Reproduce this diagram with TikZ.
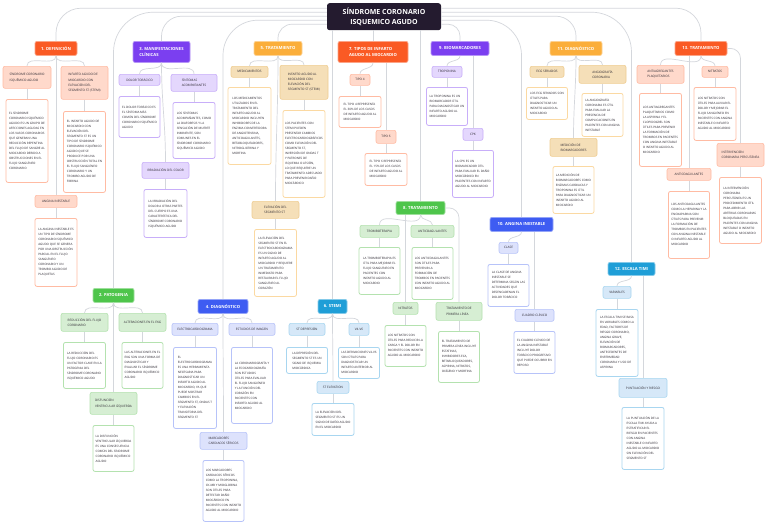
\documentclass[tikz,border=0pt]{standalone}
\usepackage{fontspec}
\setmainfont{Open Sans}
\usepackage{tikz}
\usetikzlibrary{positioning,calc}
\definecolor{ink}{HTML}{2E2A33}
\definecolor{rootdark}{HTML}{241B2F}
\definecolor{linkgray}{HTML}{D4D7DC}
\definecolor{redink}{HTML}{FA5A24}
\definecolor{redbg}{HTML}{FFD9CB}
\definecolor{redline}{HTML}{FFBBA3}
\definecolor{purpleink}{HTML}{7B3FF0}
\definecolor{purplebg}{HTML}{E4D7FD}
\definecolor{purpleline}{HTML}{C8AEF9}
\definecolor{amberink}{HTML}{FBAE3A}
\definecolor{amberbg}{HTML}{F5DFB8}
\definecolor{amberedge}{HTML}{EFCD92}
\definecolor{amberline}{HTML}{FBD9A2}
\definecolor{greenink}{HTML}{4EC54B}
\definecolor{greenbg}{HTML}{D6EED3}
\definecolor{greenline}{HTML}{B4E2AF}
\definecolor{blueink}{HTML}{3E5CF2}
\definecolor{bluebg}{HTML}{DDE2FC}
\definecolor{blueline}{HTML}{B7C3F9}
\definecolor{tealink}{HTML}{1F9ED7}
\definecolor{tealbg}{HTML}{D6E8F8}
\definecolor{tealline}{HTML}{A8D6F0}
\newcommand\rootfont{\fontsize{7}{10}\selectfont\bfseries}
\newcommand\headfont{\fontsize{4.2}{6}\selectfont\bfseries}
\newcommand\subfont{\fontsize{3.1}{5.2}\selectfont}
\newcommand\txtfont{\fontsize{3}{5}\selectfont}
\tikzset{
  every node/.style={text=ink},
  rootbox/.style={fill=rootdark,text=white,rounded corners=2.5pt,font=\rootfont,align=center,anchor=north,minimum width=114pt,minimum height=27pt,inner sep=2pt},
  headbox/.style={rounded corners=2pt,text=white,font=\headfont,align=left,anchor=north,inner xsep=3pt,inner ysep=1.5pt,minimum height=14pt,line width=0.8pt},
  headred/.style={headbox,fill=redink,draw=redink!55},
  headpurple/.style={headbox,fill=purpleink,draw=purpleink!55},
  headamber/.style={headbox,fill=amberink,draw=amberink!55},
  headgreen/.style={headbox,fill=greenink,draw=greenink!55},
  headblue/.style={headbox,fill=blueink,draw=blueink!55},
  headteal/.style={headbox,fill=tealink,draw=tealink!55},
  subbox/.style={rounded corners=2pt,font=\subfont,align=left,anchor=north,inner sep=2pt,minimum width=47pt,minimum height=12pt,line width=0.6pt},
  subred/.style={subbox,fill=redbg,draw=redline},
  subpurple/.style={subbox,fill=purplebg,draw=purpleline},
  subamber/.style={subbox,fill=amberbg,draw=amberedge},
  subgreen/.style={subbox,fill=greenbg,draw=greenline},
  subblue/.style={subbox,fill=bluebg,draw=blueline},
  subteal/.style={subbox,fill=tealbg,draw=tealline},
  txtbox/.style={rounded corners=2pt,fill=white,font=\txtfont,align=left,anchor=north,inner sep=2pt,minimum width=42pt,line width=0.8pt},
  txtred/.style={txtbox,draw=redline},
  txtpurple/.style={txtbox,draw=purpleline},
  txtamber/.style={txtbox,draw=amberline},
  txtgreen/.style={txtbox,draw=greenline},
  txtblue/.style={txtbox,draw=blueline},
  txtteal/.style={txtbox,draw=tealline},
  linkline/.style={draw=linkgray,line width=0.7pt}
}
\begin{document}
\begin{tikzpicture}[x=1pt,y=1pt]
  \fill[white] (0,0) rectangle (768,-525);
  \useasboundingbox (0,0) rectangle (768,-525);

  \node[rootbox] (root) at (384,-3) {SÍNDROME CORONARIO\\ISQUEMICO AGUDO};

  \node[headred,minimum width=42pt] (def) at (56,-41) {1. DEFINICIÓN};
  \node[headpurple,minimum width=57pt,minimum height=21pt] (man) at (161.5,-41) {3. MANIFESTACIONES\\CLÍNICAS};
  \node[headamber,minimum width=48pt] (tra5) at (278,-41) {5. TRATAMIENTO};
  \node[headred,minimum width=70pt,minimum height=21pt] (tip) at (373,-41) {7. TIPOS DE INFARTO\\AGUDO AL MIOCARDIO};
  \node[headpurple,minimum width=58pt] (bio) at (460,-41) {9. BIOMARCADORES};
  \node[headamber,minimum width=52pt] (dia11) at (576,-41) {11. DIAGNÓSTICO};
  \node[headred,minimum width=52pt] (tra13) at (701,-41) {13. TRATAMIENTO};
  \node[headgreen,minimum width=41pt] (pat) at (113.5,-288) {2. PATOGENIA};
  \node[headblue,minimum width=50pt] (dia4) at (223,-299) {4. DIAGNÓSTICO};
  \node[headteal,minimum width=29pt] (stemi) at (332.5,-299) {6. STEMI};
  \node[headgreen,minimum width=49pt,minimum height=13pt] (tra8) at (420.5,-201) {8. TRATAMIENTO};
  \node[headblue,minimum width=63pt] (ang) at (521.5,-217) {10. ANGINA INESTABLE};
  \node[headteal,minimum width=47pt,minimum height=13pt] (timi) at (631.5,-262) {12. ESCALA TIMI};

  \node[subred,minimum width=48pt,minimum height=22pt] (sin1) at (27,-66) {SÍNDROME CORONARIO\\ISQUÉMICO AGUDO};
  \node[subred,minimum height=33pt] (inf1) at (84.5,-66) {INFARTO AGUDO DE\\MIOCARDIO CON\\ELEVACIÓN DEL\\SEGMENTO ST (STEMI)};
  \node[subred,minimum width=42pt] (ang1) at (56,-195) {ANGINA INESTABLE};
  \node[txtred,minimum height=83pt] (tsin1) at (27,-99) {EL SÍNDROME\\CORONARIO ISQUÉMICO\\AGUDO ES UN GRUPO DE\\AFECCIONES AGUDAS EN\\LOS VASOS CORONARIOS\\QUE GENERAN UNA\\REDUCCIÓN REPENTINA\\DEL FLUJO DE SANGRE AL\\MIOCARDIO DEBIDO A\\OBSTRUCCIONES EN EL\\FLUJO SANGUÍNEO\\CORONARIO};
  \node[txtred,minimum height=81pt] (tinf1) at (84.5,-111) {EL INFARTO AGUDO DE\\MIOCARDIO CON\\ELEVACIÓN DEL\\SEGMENTO ST ES UN\\TIPO DE SÍNDROME\\CORONARIO ISQUÉMICO\\AGUDO QUE SE\\PRODUCE POR UNA\\OBSTRUCCIÓN TOTAL EN\\EL FLUJO SANGUÍNEO\\CORONARIO Y UN\\TROMBO AGUDO DE\\FIBRINA};
  \node[txtred,minimum height=68pt] (tang1) at (56,-218) {LA ANGINA INESTABLE ES\\UN TIPO DE SÍNDROME\\CORONARIO ISQUÉMICO\\AGUDO QUE SE GENERA\\POR UNA OBSTRUCCIÓN\\PARCIAL EN EL FLUJO\\SANGUÍNEO\\CORONARIO Y UN\\TROMBO AGUDO DE\\PLAQUETAS};

  \node[subpurple,minimum width=41pt,minimum height=11pt] (dol3) at (139.5,-74) {DOLOR TORÁCICO};
  \node[subpurple,minimum width=46pt,minimum height=17pt] (sin3) at (194,-74) {SÍNTOMAS\\ACOMPAÑANTES};
  \node[subpurple,minimum height=16pt] (irr3) at (165.5,-162) {IRRADIACIÓN DEL COLOR};
  \node[txtpurple,minimum width=41pt,minimum height=41pt] (tdol3) at (139.5,-96) {EL DOLOR TORÁCICO ES\\EL SÍNTOMA MÁS\\COMÚN DEL SÍNDROME\\CORONARIO ISQUÉMICO\\AGUDO};
  \node[txtpurple,minimum height=56pt] (tsin3) at (194,-102) {LOS SÍNTOMAS\\ACOMPAÑANTES, COMO\\LA DIAFORESIS Y LA\\SENSACIÓN DE MUERTE\\INMINENTE, SON\\COMUNES EN EL\\SÍNDROME CORONARIO\\ISQUÉMICO AGUDO};
  \node[txtpurple,minimum width=43pt,minimum height=48pt] (tirr3) at (165.5,-189) {LA IRRADIACIÓN DEL\\DOLOR A OTRAS PARTES\\DEL CUERPO ES UNA\\CARACTERÍSTICA DEL\\SÍNDROME CORONARIO\\ISQUÉMICO AGUDO};

  \node[subamber,minimum width=37pt,minimum height=11pt] (med5) at (249.5,-66) {MEDICAMENTOS};
  \node[subamber,minimum width=48pt,minimum height=34pt] (inf5) at (304,-65) {INFARTO AGUDO AL\\MIOCARDIO CON\\ELEVACIÓN DEL\\SEGMENTO ST (STEMI)};
  \node[subamber,minimum height=17pt] (ele5) at (275.5,-201) {ELEVACIÓN DEL\\SEGMENTO ST};
  \node[txtamber,minimum width=43pt,minimum height=77pt] (tmed5) at (249.5,-87) {LOS MEDICAMENTOS\\UTILIZADOS EN EL\\TRATAMIENTO DEL\\INFARTO AGUDO AL\\MIOCARDIO INCLUYEN\\INHIBIDORES DE LA\\ENZIMA CONVERTIDORA\\DE ANGIOTENSINA,\\ANTICOAGULANTES,\\BETABLOQUEADORES,\\NITROGLICERINA Y\\MORFINA};
  \node[txtamber,minimum height=87pt] (tinf5) at (304,-110) {LOS PACIENTES CON\\STEMI PUEDEN\\PRESENTAR CAMBIOS\\ELECTROCARDIOGRÁFICOS\\COMO ELEVACIÓN DEL\\SEGMENTO ST,\\INVERSIÓN DE ONDAS T\\Y PATRONES DE\\ISQUEMIA O LESIÓN,\\LO QUE REQUIERE UN\\TRATAMIENTO ADECUADO\\PARA PREVENIR DAÑO\\MIOCÁRDICO};
  \node[txtamber,minimum height=67pt] (tele5) at (275.5,-229) {LA ELEVACIÓN DEL\\SEGMENTO ST EN EL\\ELECTROCARDIOGRAMA\\ES UN SIGNO DE\\INFARTO AGUDO AL\\MIOCARDIO Y REQUIERE\\UN TRATAMIENTO\\INMEDIATO PARA\\RESTAURAR EL FLUJO\\SANGUÍNEO AL\\CORAZÓN};

  \node[subred,minimum width=20pt,minimum height=11pt] (tp4) at (360,-74) {TIPO 4};
  \node[subred,minimum width=20pt,minimum height=13pt] (tp6) at (386,-130) {TIPO 6};
  \node[txtred,minimum height=31pt] (ttp4) at (360,-96) {EL TIPO 4 REPRESENTA\\EL 30\% DE LOS CASOS\\DE INFARTO AGUDO AL\\MIOCARDIO};
  \node[txtred,minimum height=32pt] (ttp6) at (386,-153) {EL TIPO 6 REPRESENTA\\EL 15\% DE LOS CASOS\\DE INFARTO AGUDO AL\\MIOCARDIO};

  \node[subpurple,minimum width=30pt,minimum height=11pt] (tro9) at (447,-66) {TROPONINA};
  \node[subpurple,minimum width=20pt] (cpk9) at (473,-128) {CPK};
  \node[txtpurple,minimum width=41pt,minimum height=38pt] (ttro9) at (447,-87) {LA TROPONINA ES UN\\BIOMARCADOR ÚTIL\\PARA DIAGNOSTICAR UN\\INFARTO AGUDO AL\\MIOCARDIO};
  \node[txtpurple,minimum width=41pt,minimum height=47pt] (tcpk9) at (473,-150) {LA CPK ES UN\\BIOMARCADOR ÚTIL\\PARA EVALUAR EL DAÑO\\MIOCÁRDICO EN\\PACIENTES CON INFARTO\\AGUDO AL MIOCARDIO};

  \node[subamber,minimum width=34pt,minimum height=11pt] (ecg11) at (547,-66) {ECG SERIADOS};
  \node[subamber,minimum height=18pt] (angio11) at (602.5,-65) {ANGIOGRAFÍA\\CORONARIA};
  \node[subamber,minimum height=18pt] (med11) at (573.5,-138) {MEDICIÓN DE\\BIOMARCADORES};
  \node[txtamber,minimum width=41pt,minimum height=32pt] (tecg11) at (547,-87) {LOS ECG SERIADOS SON\\ÚTILES PARA\\DIAGNOSTICAR UN\\INFARTO AGUDO AL\\MIOCARDIO};
  \node[txtamber,minimum width=41pt,minimum height=43pt] (tangio11) at (602.5,-93) {LA ANGIOGRAFÍA\\CORONARIA ES ÚTIL\\PARA EVALUAR LA\\PRESENCIA DE\\COMPLICACIONES EN\\PACIENTES CON ANGINA\\INESTABLE};
  \node[txtamber,minimum width=41pt,minimum height=47pt] (tmed11) at (573.5,-166) {LA MEDICIÓN DE\\BIOMARCADORES COMO\\ENZIMAS CARDIACAS Y\\TROPONINA ES ÚTIL\\PARA DIAGNOSTICAR UN\\INFARTO AGUDO AL\\MIOCARDIO};

  \node[subred,minimum height=18pt] (ant13) at (660.5,-65) {ANTIAGREGANTES\\PLAQUETARIOS};
  \node[subred,minimum width=26pt,minimum height=11pt] (nit13) at (715,-66) {NITRATOS};
  \node[subred,minimum height=23pt] (int13) at (740.5,-143) {INTERVENCIÓN\\CORONARIA PERCUTÁNEA};
  \node[subred,minimum width=44pt] (acg13) at (689,-168) {ANTICOAGULANTES};
  \node[txtred,minimum height=73pt] (tant13) at (660.5,-93) {LOS ANTIAGREGANTES\\PLAQUETARIOS COMO\\LA ASPIRINA Y EL\\CLOPIDOGREL SON\\ÚTILES PARA PREVENIR\\LA FORMACIÓN DE\\TROMBOS EN PACIENTES\\CON ANGINA INESTABLE\\O INFARTO AGUDO AL\\MIOCARDIO};
  \node[txtred,minimum height=53pt] (tnit13) at (715,-87) {LOS NITRATOS SON\\ÚTILES PARA ALIVIAR EL\\DOLOR Y MEJORAR EL\\FLUJO SANGUÍNEO EN\\PACIENTES CON ANGINA\\INESTABLE O INFARTO\\AGUDO AL MIOCARDIO};
  \node[txtred,minimum height=66pt] (tint13) at (740.5,-177) {LA INTERVENCIÓN\\CORONARIA\\PERCUTÁNEA ES UN\\PROCEDIMIENTO ÚTIL\\PARA ABRIR LAS\\ARTERIAS CORONARIAS\\BLOQUEADAS EN\\PACIENTES CON ANGINA\\INESTABLE O INFARTO\\AGUDO AL MIOCARDIO};
  \node[txtred,minimum width=41pt,minimum height=67pt] (tacg13) at (689,-191) {LOS ANTICOAGULANTES\\COMO LA HEPARINA Y LA\\ENOXAPARINA SON\\ÚTILES PARA PREVENIR\\LA FORMACIÓN DE\\TROMBOS EN PACIENTES\\CON ANGINA INESTABLE\\O INFARTO AGUDO AL\\MIOCARDIO};

  \node[subgreen,minimum height=18pt] (red2) at (84.5,-313) {REDUCCIÓN DEL FLUJO\\CORONARIO};
  \node[subgreen,minimum height=18pt] (alt2) at (142.5,-313) {ALTERACIONES EN EL EKG};
  \node[subgreen,minimum height=22pt] (dis2) at (113.5,-392) {DISFUNCIÓN\\VENTRICULAR IZQUIERDA};
  \node[txtgreen,minimum height=46pt] (tred2) at (84.5,-342) {LA REDUCCIÓN DEL\\FLUJO CORONARIO ES\\UN FACTOR CLAVE EN LA\\PATOGENIA DEL\\SÍNDROME CORONARIO\\ISQUÉMICO AGUDO};
  \node[txtgreen,minimum width=41pt,minimum height=46pt] (talt2) at (142.5,-342) {LAS ALTERACIONES EN EL\\EKG SON UNA FORMA DE\\DIAGNOSTICAR Y\\EVALUAR EL SÍNDROME\\CORONARIO ISQUÉMICO\\AGUDO};
  \node[txtgreen,minimum width=41pt,minimum height=46pt] (tdis2) at (113.5,-425) {LA DISFUNCIÓN\\VENTRICULAR IZQUIERDA\\ES UNA CONSECUENCIA\\COMÚN DEL SÍNDROME\\CORONARIO ISQUÉMICO\\AGUDO};

  \node[subblue,minimum width=46pt] (ecg4) at (195,-323) {ELECTROCARDIOGRAMA};
  \node[subblue,minimum width=46pt] (est4) at (252,-323) {ESTUDIOS DE IMAGEN};
  \node[subblue,minimum height=17pt] (mar4) at (223.5,-432) {MARCADORES\\CARDIACOS SÉRICOS};
  \node[txtblue,minimum width=43pt,minimum height=81pt] (tecg4) at (195,-347) {EL\\ELECTROCARDIOGRAMA\\ES UNA HERRAMIENTA\\NECESARIA PARA\\DIAGNOSTICAR UN\\INFARTO AGUDO AL\\MIOCARDIO, YA QUE\\PUEDE MOSTRAR\\CAMBIOS EN EL\\SEGMENTO ST, ONDAS T\\Y ELEVACIÓN\\TRANSITORIA DEL\\SEGMENTO ST};
  \node[txtblue,minimum width=41pt,minimum height=76pt] (test4) at (252,-347) {LA CORONARIOGRAFÍA Y\\LA ECOCARDIOGRAFÍA\\SON ESTUDIOS\\ÚTILES PARA EVALUAR\\EL FLUJO SANGUÍNEO\\Y LA FUNCIÓN DEL\\CORAZÓN EN\\PACIENTES CON\\INFARTO AGUDO AL\\MIOCARDIO};
  \node[txtblue,minimum width=41pt,minimum height=61pt] (tmar4) at (223.5,-460) {LOS MARCADORES\\CARDIACOS SÉRICOS\\COMO LA TROPONINA,\\CK-MB Y MIOGLOBINA\\SON ÚTILES PARA\\DETECTAR DAÑO\\MIOCÁRDICO EN\\PACIENTES CON INFARTO\\AGUDO AL MIOCARDIO};

  \node[subteal,minimum width=36pt] (dep6) at (307,-323) {ST DEPRESIÓN};
  \node[subteal,minimum width=20pt] (v46) at (359,-323) {V4-V6};
  \node[subteal,minimum width=32pt] (elv6) at (333,-381) {ST ELEVATION};
  \node[txtteal,minimum width=41pt,minimum height=26pt] (tdep6) at (307,-347) {LA DEPRESIÓN DEL\\SEGMENTO ST ES UN\\SIGNO DE ISQUEMIA\\MIOCÁRDICA};
  \node[txtteal,minimum width=41pt,minimum height=31pt] (tv46) at (359,-347) {LAS DERIVACIONES V4-V6\\SON ÚTILES PARA\\DIAGNOSTICAR UN\\INFARTO ANTERIOR AL\\MIOCARDIO};
  \node[txtteal,minimum height=32pt] (telv6) at (333,-403) {LA ELEVACIÓN DEL\\SEGMENTO ST ES UN\\SIGNO DE DAÑO AGUDO\\EN EL MIOCARDIO};

  \node[subgreen,minimum width=39pt] (trm8) at (379.5,-225) {TROMBOTERAPIA};
  \node[subgreen,minimum width=43pt] (acg8) at (432.5,-225) {ANTICOAGULANTES};
  \node[subgreen,minimum width=25pt] (nit8) at (405.5,-302) {NITRATOS};
  \node[subgreen,minimum width=46pt,minimum height=18pt] (pri8) at (459,-302) {TRATAMIENTO DE\\PRIMERA LÍNEA};
  \node[txtgreen,minimum width=41pt,minimum height=47pt] (ttrm8) at (379.5,-247) {LA TROMBOTERAPIA ES\\ÚTIL PARA MEJORAR EL\\FLUJO SANGUÍNEO EN\\PACIENTES CON\\INFARTO AGUDO AL\\MIOCARDIO};
  \node[txtgreen,minimum width=41pt,minimum height=52pt] (tacg8) at (432.5,-247) {LOS ANTICOAGULANTES\\SON ÚTILES PARA\\PREVENIR LA\\FORMACIÓN DE\\TROMBOS EN PACIENTES\\CON INFARTO AGUDO AL\\MIOCARDIO};
  \node[txtgreen,minimum width=41pt,minimum height=41pt] (tnit8) at (405.5,-325) {LOS NITRATOS SON\\ÚTILES PARA REDUCIR LA\\CARGA Y EL DOLOR EN\\PACIENTES CON INFARTO\\AGUDO AL MIOCARDIO};
  \node[txtgreen,minimum width=41pt,minimum height=51pt] (tpri8) at (459,-331) {EL TRATAMIENTO DE\\PRIMERA LÍNEA INCLUYE\\ESTATINAS,\\INHIBIDORES ECA,\\BETABLOQUEADORES,\\ASPIRINA, NITRATOS,\\OXÍGENO Y MORFINA};

  \node[subblue,minimum width=19pt,minimum height=11pt] (cla10) at (508.5,-242) {CLASE};
  \node[subblue,minimum width=39pt] (cua10) at (534.5,-309) {CUADRO CLÍNICO};
  \node[txtblue,minimum width=41pt,minimum height=42pt] (tcla10) at (508.5,-264) {LA CLASE DE ANGINA\\INESTABLE SE\\DETERMINA SEGÚN LAS\\ACTIVIDADES QUE\\DESENCADENAN EL\\DOLOR TORÁCICO};
  \node[txtblue,minimum width=41pt,minimum height=42pt] (tcua10) at (534.5,-331) {EL CUADRO CLÍNICO DE\\LA ANGINA INESTABLE\\INCLUYE DOLOR\\TORÁCICO PROGRESIVO\\QUE PUEDE OCURRIR EN\\REPOSO};

  \node[subteal,minimum width=28pt] (var12) at (617,-286) {VARIABLES};
  \node[subteal,minimum width=48pt,minimum height=19pt] (pun12) at (643,-378) {PUNTUACIÓN Y RIESGO};
  \node[txtteal,minimum height=67pt] (tvar12) at (617,-309) {LA ESCALA TIMI SE BASA\\EN VARIABLES COMO LA\\EDAD, FACTORES DE\\RIESGO CORONARIO,\\ANGINA GRAVE,\\ELEVACIÓN DE\\BIOMARCADORES,\\ANTECEDENTES DE\\ENFERMEDAD\\CORONARIA Y USO DE\\ASPIRINA};
  \node[txtteal,minimum height=62pt] (tpun12) at (643,-407) {LA PUNTUACIÓN DE LA\\ESCALA TIMI AYUDA A\\ESTRATIFICAR EL\\RIESGO EN PACIENTES\\CON ANGINA\\INESTABLE O INFARTO\\AGUDO AL MIOCARDIO\\SIN ELEVACIÓN DEL\\SEGMENTO ST};

  \draw[linkline,rounded corners=25pt] ([yshift=8.5pt]root.west) -| (def.north);
  \draw[linkline,rounded corners=40pt] ([yshift=4.5pt]root.west) -| (pat.north);
  \draw[linkline,rounded corners=20pt] ([yshift=0.5pt]root.west) -| (man.north);
  \draw[linkline,rounded corners=35pt] ([yshift=-3.5pt]root.west) -| (dia4.north);
  \draw[linkline,rounded corners=14pt] ([yshift=-7.5pt]root.west) -| (tra5.north);
  \draw[linkline,rounded corners=25pt] ([yshift=8.5pt]root.east) -| (tra13.north);
  \draw[linkline,rounded corners=40pt] ([yshift=4.5pt]root.east) -| (timi.north);
  \draw[linkline,rounded corners=20pt] ([yshift=0.5pt]root.east) -| (dia11.north);
  \draw[linkline,rounded corners=35pt] ([yshift=-3.5pt]root.east) -| (ang.north);
  \draw[linkline,rounded corners=12pt] ([yshift=-7.5pt]root.east) -| (bio.north);
  \draw[linkline] (root.south -| stemi.north) -- (stemi.north);
  \draw[linkline] (root.south -| tip.north) -- (tip.north);
  \draw[linkline] (root.south -| tra8.north) -- (tra8.north);

  \draw[linkline] (def.south) to[out=-90,in=90] (sin1.north);
  \draw[linkline] (def.south) to[out=-90,in=90] (inf1.north);
  \draw[linkline] (def.south) -- (ang1.north);
  \draw[linkline] (sin1.south) -- (tsin1.north);
  \draw[linkline] (inf1.south) -- (tinf1.north);
  \draw[linkline] (ang1.south) -- (tang1.north);

  \draw[linkline] (man.south) to[out=-90,in=90] (dol3.north);
  \draw[linkline] (man.south) to[out=-90,in=90] (sin3.north);
  \draw[linkline] (man.south) to[out=-90,in=90] (irr3.north);
  \draw[linkline] (dol3.south) -- (tdol3.north);
  \draw[linkline] (sin3.south) -- (tsin3.north);
  \draw[linkline] (irr3.south) -- (tirr3.north);

  \draw[linkline] (tra5.south) to[out=-90,in=90] (med5.north);
  \draw[linkline] (tra5.south) to[out=-90,in=90] (inf5.north);
  \draw[linkline] (tra5.south) to[out=-90,in=90] (ele5.north);
  \draw[linkline] (med5.south) -- (tmed5.north);
  \draw[linkline] (inf5.south) -- (tinf5.north);
  \draw[linkline] (ele5.south) -- (tele5.north);

  \draw[linkline] (tip.south) to[out=-90,in=90] (tp4.north);
  \draw[linkline] (tip.south -| tp6.north) -- (tp6.north);
  \draw[linkline] (tp4.south) -- (ttp4.north);
  \draw[linkline] (tp6.south) -- (ttp6.north);

  \draw[linkline] (bio.south) to[out=-90,in=90] (tro9.north);
  \draw[linkline] (bio.south -| cpk9.north) -- (cpk9.north);
  \draw[linkline] (tro9.south) -- (ttro9.north);
  \draw[linkline] (cpk9.south) -- (tcpk9.north);

  \draw[linkline] (dia11.south) to[out=-90,in=90] (ecg11.north);
  \draw[linkline] (dia11.south) to[out=-90,in=90] (angio11.north);
  \draw[linkline] (dia11.south) to[out=-90,in=90] (med11.north);
  \draw[linkline] (ecg11.south) -- (tecg11.north);
  \draw[linkline] (angio11.south) -- (tangio11.north);
  \draw[linkline] (med11.south) -- (tmed11.north);

  \draw[linkline] (tra13.south) to[out=-90,in=90] (ant13.north);
  \draw[linkline] (tra13.south) to[out=-90,in=90] (nit13.north);
  \draw[linkline] (tra13.south -| acg13.north) -- (acg13.north);
  \draw[linkline,rounded corners=10pt] (tra13.east) -| (int13.north);
  \draw[linkline] (ant13.south) -- (tant13.north);
  \draw[linkline] (nit13.south) -- (tnit13.north);
  \draw[linkline] (int13.south) -- (tint13.north);
  \draw[linkline] (acg13.south) -- (tacg13.north);

  \draw[linkline] (pat.south) to[out=-90,in=90] (red2.north);
  \draw[linkline] (pat.south) to[out=-90,in=90] (alt2.north);
  \draw[linkline] (pat.south) -- (dis2.north);
  \draw[linkline] (red2.south) -- (tred2.north);
  \draw[linkline] (alt2.south) -- (talt2.north);
  \draw[linkline] (dis2.south) -- (tdis2.north);

  \draw[linkline] (dia4.south) to[out=-90,in=90] (ecg4.north);
  \draw[linkline] (dia4.south) to[out=-90,in=90] (est4.north);
  \draw[linkline] (dia4.south) to[out=-90,in=90] (mar4.north);
  \draw[linkline] (ecg4.south) -- (tecg4.north);
  \draw[linkline] (est4.south) -- (test4.north);
  \draw[linkline] (mar4.south) -- (tmar4.north);

  \draw[linkline] (stemi.south) to[out=-90,in=90] (dep6.north);
  \draw[linkline] (stemi.south) to[out=-90,in=90] (v46.north);
  \draw[linkline] (stemi.south) to[out=-90,in=90] (elv6.north);
  \draw[linkline] (dep6.south) -- (tdep6.north);
  \draw[linkline] (v46.south) -- (tv46.north);
  \draw[linkline] (elv6.south) -- (telv6.north);

  \draw[linkline] (tra8.south) to[out=-90,in=90] (trm8.north);
  \draw[linkline] (tra8.south) to[out=-90,in=90] (acg8.north);
  \draw[linkline] (tra8.south -| nit8.north) -- (nit8.north);
  \draw[linkline,rounded corners=10pt] (tra8.east) -| (pri8.north);
  \draw[linkline] (trm8.south) -- (ttrm8.north);
  \draw[linkline] (acg8.south) -- (tacg8.north);
  \draw[linkline] (nit8.south) -- (tnit8.north);
  \draw[linkline] (pri8.south) -- (tpri8.north);

  \draw[linkline] (ang.south) to[out=-90,in=90] (cla10.north);
  \draw[linkline] (ang.south -| cua10.north) -- (cua10.north);
  \draw[linkline] (cla10.south) -- (tcla10.north);
  \draw[linkline] (cua10.south) -- (tcua10.north);

  \draw[linkline] (timi.south) to[out=-90,in=90] (var12.north);
  \draw[linkline] (timi.south -| pun12.north) -- (pun12.north);
  \draw[linkline] (var12.south) -- (tvar12.north);
  \draw[linkline] (pun12.south) -- (tpun12.north);
\end{tikzpicture}
\end{document}
